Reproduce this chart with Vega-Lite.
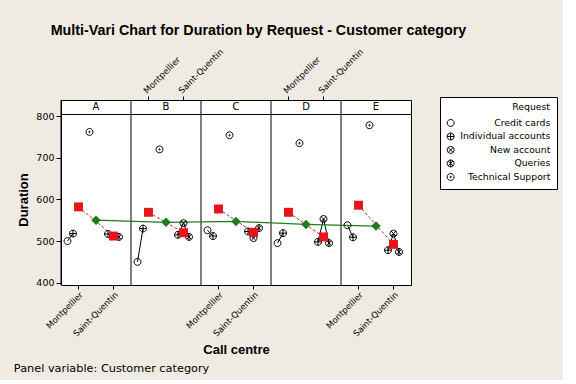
{
  "$schema": "https://vega.github.io/schema/vega-lite/v6.json",
  "background": "#efebe2",
  "padding": {"left": 13, "top": 24, "right": 5, "bottom": 5},
  "bounds": "flush",
  "title": {"text": "Multi-Vari Chart for Duration by Request - Customer category", "fontSize": 14.3, "font": "Liberation Sans", "fontWeight": "bold", "anchor": "middle", "offset": 8, "dx": -27, "color": "black"},
  "config": {
    "font": "DejaVu Sans",
    "view": {"stroke": "black", "strokeWidth": 1, "fill": "white"},
    "axis": {"domain": false, "tickColor": "black", "labelColor": "black", "titleColor": "black", "labelFont": "DejaVu Sans", "titleFont": "Liberation Sans", "grid": false}
  },
  "datasets": {
    "req": [
      {"Category": "A", "Centre": "Montpellier", "Cell": "A|Montpellier", "Request": "Credit cards", "Duration": 500},
      {"Category": "A", "Centre": "Montpellier", "Cell": "A|Montpellier", "Request": "Individual accounts", "Duration": 518},
      {"Category": "A", "Centre": "Montpellier", "Cell": "A|Montpellier", "Request": "New account", "Duration": null},
      {"Category": "A", "Centre": "Montpellier", "Cell": "A|Montpellier", "Request": "Queries", "Duration": null},
      {"Category": "A", "Centre": "Montpellier", "Cell": "A|Montpellier", "Request": "Technical Support", "Duration": 762},
      {"Category": "A", "Centre": "Saint-Quentin", "Cell": "A|Saint-Quentin", "Request": "Credit cards", "Duration": null},
      {"Category": "A", "Centre": "Saint-Quentin", "Cell": "A|Saint-Quentin", "Request": "Individual accounts", "Duration": 517},
      {"Category": "A", "Centre": "Saint-Quentin", "Cell": "A|Saint-Quentin", "Request": "New account", "Duration": 512},
      {"Category": "A", "Centre": "Saint-Quentin", "Cell": "A|Saint-Quentin", "Request": "Queries", "Duration": 510},
      {"Category": "A", "Centre": "Saint-Quentin", "Cell": "A|Saint-Quentin", "Request": "Technical Support", "Duration": null},
      {"Category": "B", "Centre": "Montpellier", "Cell": "B|Montpellier", "Request": "Credit cards", "Duration": 450},
      {"Category": "B", "Centre": "Montpellier", "Cell": "B|Montpellier", "Request": "Individual accounts", "Duration": 530},
      {"Category": "B", "Centre": "Montpellier", "Cell": "B|Montpellier", "Request": "New account", "Duration": null},
      {"Category": "B", "Centre": "Montpellier", "Cell": "B|Montpellier", "Request": "Queries", "Duration": null},
      {"Category": "B", "Centre": "Montpellier", "Cell": "B|Montpellier", "Request": "Technical Support", "Duration": 720},
      {"Category": "B", "Centre": "Saint-Quentin", "Cell": "B|Saint-Quentin", "Request": "Credit cards", "Duration": null},
      {"Category": "B", "Centre": "Saint-Quentin", "Cell": "B|Saint-Quentin", "Request": "Individual accounts", "Duration": 515},
      {"Category": "B", "Centre": "Saint-Quentin", "Cell": "B|Saint-Quentin", "Request": "New account", "Duration": 543},
      {"Category": "B", "Centre": "Saint-Quentin", "Cell": "B|Saint-Quentin", "Request": "Queries", "Duration": 510},
      {"Category": "B", "Centre": "Saint-Quentin", "Cell": "B|Saint-Quentin", "Request": "Technical Support", "Duration": null},
      {"Category": "C", "Centre": "Montpellier", "Cell": "C|Montpellier", "Request": "Credit cards", "Duration": 526},
      {"Category": "C", "Centre": "Montpellier", "Cell": "C|Montpellier", "Request": "Individual accounts", "Duration": 512},
      {"Category": "C", "Centre": "Montpellier", "Cell": "C|Montpellier", "Request": "New account", "Duration": null},
      {"Category": "C", "Centre": "Montpellier", "Cell": "C|Montpellier", "Request": "Queries", "Duration": null},
      {"Category": "C", "Centre": "Montpellier", "Cell": "C|Montpellier", "Request": "Technical Support", "Duration": 754},
      {"Category": "C", "Centre": "Saint-Quentin", "Cell": "C|Saint-Quentin", "Request": "Credit cards", "Duration": null},
      {"Category": "C", "Centre": "Saint-Quentin", "Cell": "C|Saint-Quentin", "Request": "Individual accounts", "Duration": 523},
      {"Category": "C", "Centre": "Saint-Quentin", "Cell": "C|Saint-Quentin", "Request": "New account", "Duration": 507},
      {"Category": "C", "Centre": "Saint-Quentin", "Cell": "C|Saint-Quentin", "Request": "Queries", "Duration": 531},
      {"Category": "C", "Centre": "Saint-Quentin", "Cell": "C|Saint-Quentin", "Request": "Technical Support", "Duration": null},
      {"Category": "D", "Centre": "Montpellier", "Cell": "D|Montpellier", "Request": "Credit cards", "Duration": 495},
      {"Category": "D", "Centre": "Montpellier", "Cell": "D|Montpellier", "Request": "Individual accounts", "Duration": 519},
      {"Category": "D", "Centre": "Montpellier", "Cell": "D|Montpellier", "Request": "New account", "Duration": null},
      {"Category": "D", "Centre": "Montpellier", "Cell": "D|Montpellier", "Request": "Queries", "Duration": null},
      {"Category": "D", "Centre": "Montpellier", "Cell": "D|Montpellier", "Request": "Technical Support", "Duration": 735},
      {"Category": "D", "Centre": "Saint-Quentin", "Cell": "D|Saint-Quentin", "Request": "Credit cards", "Duration": null},
      {"Category": "D", "Centre": "Saint-Quentin", "Cell": "D|Saint-Quentin", "Request": "Individual accounts", "Duration": 498},
      {"Category": "D", "Centre": "Saint-Quentin", "Cell": "D|Saint-Quentin", "Request": "New account", "Duration": 553},
      {"Category": "D", "Centre": "Saint-Quentin", "Cell": "D|Saint-Quentin", "Request": "Queries", "Duration": 495},
      {"Category": "D", "Centre": "Saint-Quentin", "Cell": "D|Saint-Quentin", "Request": "Technical Support", "Duration": null},
      {"Category": "E", "Centre": "Montpellier", "Cell": "E|Montpellier", "Request": "Credit cards", "Duration": 538},
      {"Category": "E", "Centre": "Montpellier", "Cell": "E|Montpellier", "Request": "Individual accounts", "Duration": 509},
      {"Category": "E", "Centre": "Montpellier", "Cell": "E|Montpellier", "Request": "New account", "Duration": null},
      {"Category": "E", "Centre": "Montpellier", "Cell": "E|Montpellier", "Request": "Queries", "Duration": null},
      {"Category": "E", "Centre": "Montpellier", "Cell": "E|Montpellier", "Request": "Technical Support", "Duration": 778},
      {"Category": "E", "Centre": "Saint-Quentin", "Cell": "E|Saint-Quentin", "Request": "Credit cards", "Duration": null},
      {"Category": "E", "Centre": "Saint-Quentin", "Cell": "E|Saint-Quentin", "Request": "Individual accounts", "Duration": 478},
      {"Category": "E", "Centre": "Saint-Quentin", "Cell": "E|Saint-Quentin", "Request": "New account", "Duration": 518},
      {"Category": "E", "Centre": "Saint-Quentin", "Cell": "E|Saint-Quentin", "Request": "Queries", "Duration": 474},
      {"Category": "E", "Centre": "Saint-Quentin", "Cell": "E|Saint-Quentin", "Request": "Technical Support", "Duration": null}
    ],
    "centreMeans": [
      {"Category": "A", "Centre": "Montpellier", "Cell": "A|Montpellier", "Duration": 582},
      {"Category": "A", "Centre": "Saint-Quentin", "Cell": "A|Saint-Quentin", "Duration": 512},
      {"Category": "B", "Centre": "Montpellier", "Cell": "B|Montpellier", "Duration": 569},
      {"Category": "B", "Centre": "Saint-Quentin", "Cell": "B|Saint-Quentin", "Duration": 520},
      {"Category": "C", "Centre": "Montpellier", "Cell": "C|Montpellier", "Duration": 577},
      {"Category": "C", "Centre": "Saint-Quentin", "Cell": "C|Saint-Quentin", "Duration": 521},
      {"Category": "D", "Centre": "Montpellier", "Cell": "D|Montpellier", "Duration": 569},
      {"Category": "D", "Centre": "Saint-Quentin", "Cell": "D|Saint-Quentin", "Duration": 510},
      {"Category": "E", "Centre": "Montpellier", "Cell": "E|Montpellier", "Duration": 586},
      {"Category": "E", "Centre": "Saint-Quentin", "Cell": "E|Saint-Quentin", "Duration": 492}
    ],
    "panels": [
      {"Category": "A", "Cell": "A|Montpellier", "Duration": 550},
      {"Category": "B", "Cell": "B|Montpellier", "Duration": 545},
      {"Category": "C", "Cell": "C|Montpellier", "Duration": 547},
      {"Category": "D", "Cell": "D|Montpellier", "Duration": 540},
      {"Category": "E", "Cell": "E|Montpellier", "Duration": 536}
    ]
  },
  "spacing": 0,
  "resolve": {"scale": {"x": "independent"}},
  "vconcat": [
    {
      "width": 350,
      "height": 14,
      "data": {"name": "panels"},
      "layer": [
        {
          "mark": {"type": "rule", "color": "black", "strokeWidth": 1},
          "encoding": {
            "x": {
              "field": "Cell", "type": "nominal", "bandPosition": 0,
              "scale": {"type": "band", "paddingInner": 0, "paddingOuter": 0, "domain": ["A|Montpellier", "A|Saint-Quentin", "B|Montpellier", "B|Saint-Quentin", "C|Montpellier", "C|Saint-Quentin", "D|Montpellier", "D|Saint-Quentin", "E|Montpellier", "E|Saint-Quentin"]},
              "axis": {
                "orient": "top", "title": null, "labelAngle": -45, "labelFontSize": 8.5, "labelPadding": 1, "tickSize": 4,
                "labelExpr": "test(/^[BD]/, datum.value) ? split(datum.value, '|')[1] : ''",
                "tickOpacity": {"condition": {"test": "test(/^[BD]/, datum.value)", "value": 1}, "value": 0}
              }
            }
          }
        },
        {
          "mark": {"type": "text", "fontSize": 10, "color": "black", "baseline": "middle"},
          "encoding": {
            "x": {"field": "Cell", "type": "nominal", "bandPosition": 1},
            "text": {"field": "Category"}
          }
        }
      ]
    },
    {
      "width": 350,
      "height": 171,
      "title": {"text": "Panel variable: Customer category", "orient": "bottom", "anchor": "start", "dx": -4, "fontSize": 11.3, "font": "DejaVu Sans", "fontWeight": "normal", "offset": 6, "color": "black"},
      "encoding": {
        "x": {
          "field": "Cell", "type": "nominal",
          "scale": {"type": "band", "paddingInner": 0, "paddingOuter": 0, "domain": ["A|Montpellier", "A|Saint-Quentin", "B|Montpellier", "B|Saint-Quentin", "C|Montpellier", "C|Saint-Quentin", "D|Montpellier", "D|Saint-Quentin", "E|Montpellier", "E|Saint-Quentin"]},
          "axis": {
            "orient": "bottom", "title": "Call centre", "titleFontSize": 13, "titleFontWeight": "bold", "titlePadding": 6,
            "labelAngle": -45, "labelFontSize": 8.5, "labelPadding": 1, "tickSize": 4,
            "labelExpr": "test(/^[ACE]/, datum.value) ? split(datum.value, '|')[1] : ''",
            "tickOpacity": {"condition": {"test": "test(/^[ACE]/, datum.value)", "value": 1}, "value": 0}
          }
        },
        "y": {
          "field": "Duration", "type": "quantitative",
          "scale": {"domain": [394.5, 805], "nice": false, "zero": false},
          "axis": {"title": "Duration", "values": [400, 500, 600, 700, 800], "titleFontSize": 13, "titleFontWeight": "bold", "titlePadding": 5, "labelFontSize": 9.5, "tickSize": 5, "labelPadding": 2}
        }
      },
      "layer": [
        {
          "data": {"name": "panels"},
          "mark": {"type": "rule", "color": "black", "strokeWidth": 1},
          "encoding": {
            "x": {"field": "Cell", "type": "nominal", "bandPosition": 0},
            "y": null
          }
        },
        {
          "data": {"name": "req"},
          "mark": {"type": "line", "color": "black", "strokeWidth": 1, "invalid": "break-paths-show-domains"},
          "encoding": {
            "xOffset": {"field": "Request", "type": "nominal", "scale": {"type": "point", "padding": 0, "range": [6.5, 28.5]}},
            "detail": {"field": "Cell"},
            "order": {"field": "Request", "type": "ordinal"}
          }
        },
        {
          "data": {"name": "centreMeans"},
          "mark": {"type": "line", "color": "#c0282a", "strokeWidth": 1, "strokeDash": [3, 2]},
          "encoding": {
            "detail": {"field": "Category"}
          }
        },
        {
          "data": {"name": "panels"},
          "mark": {"type": "line", "color": "#1f7f1f", "strokeWidth": 1.2},
          "encoding": {
            "x": {"field": "Cell", "type": "nominal", "bandPosition": 1}
          }
        },
        {
          "data": {"name": "req"},
          "transform": [{"filter": "isValid(datum.Duration)"}],
          "mark": {"type": "point", "filled": false, "stroke": "black", "strokeWidth": 1, "size": 48, "opacity": 1},
          "encoding": {
            "xOffset": {"field": "Request", "type": "nominal", "scale": {"type": "point", "padding": 0, "range": [6.5, 28.5]}},
            "shape": {
              "field": "Request", "type": "nominal",
              "scale": {
                "domain": ["Credit cards", "Individual accounts", "New account", "Queries", "Technical Support"],
                "range": [
                  "M1,0A1,1,0,1,1,-1,0A1,1,0,1,1,1,0Z",
                  "M1,0A1,1,0,1,1,-1,0A1,1,0,1,1,1,0ZM-1,0L1,0M0,-1L0,1",
                  "M1,0A1,1,0,1,1,-1,0A1,1,0,1,1,1,0ZM-0.71,-0.71L0.71,0.71M-0.71,0.71L0.71,-0.71",
                  "M1,0A1,1,0,1,1,-1,0A1,1,0,1,1,1,0ZM-0.71,-0.71L0.71,0.71M-0.71,0.71L0.71,-0.71M0,-1L0,1",
                  "M1,0A1,1,0,1,1,-1,0A1,1,0,1,1,1,0ZM0.22,0A0.22,0.22,0,1,1,-0.22,0A0.22,0.22,0,1,1,0.22,0Z"
                ]
              },
              "legend": {
                "orient": "none", "legendX": 379, "legendY": -3,
                "title": "Request", "titleFontWeight": "normal", "titleFontSize": 9.3, "titleFont": "DejaVu Sans", "titleColor": "black", "titleAnchor": "end", "titlePadding": 6,
                "labelFontSize": 9.3, "labelFont": "DejaVu Sans", "labelColor": "black", "labelAlign": "right", "labelOffset": 95,
                "symbolStrokeColor": "black", "symbolFillColor": "transparent", "symbolSize": 48, "symbolStrokeWidth": 1,
                "fillColor": "white", "strokeColor": "black", "padding": 6, "rowPadding": 1.5
              }
            }
          }
        },
        {
          "data": {"name": "centreMeans"},
          "mark": {"type": "point", "shape": "square", "filled": true, "color": "#e8141c", "size": 80, "opacity": 1},
          "encoding": {}
        },
        {
          "data": {"name": "panels"},
          "mark": {"type": "point", "shape": "diamond", "filled": true, "color": "#1e7b1e", "size": 90, "opacity": 1},
          "encoding": {
            "x": {"field": "Cell", "type": "nominal", "bandPosition": 1}
          }
        }
      ]
    }
  ]
}
